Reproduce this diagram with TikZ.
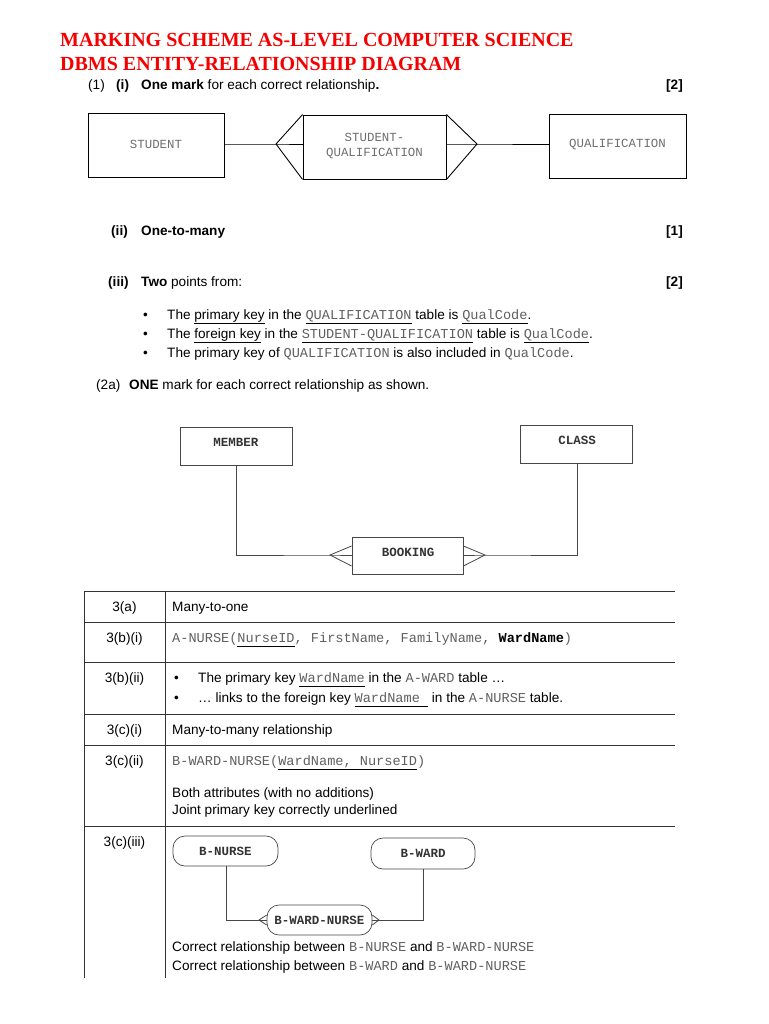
\documentclass[tikz,border=0pt]{standalone}
\usepackage{fontspec}
\setmainfont{Liberation Sans}
\newfontfamily\monof{Liberation Mono}
\newfontfamily\seriff{Liberation Serif}
\definecolor{titlered}{RGB}{245,0,0}
\definecolor{monogray}{RGB}{95,95,95}
\definecolor{boxgray}{RGB}{110,110,110}
\definecolor{linegray}{RGB}{70,70,70}
\newcommand\mt[1]{{\monof\color{monogray}#1}}
\newcommand\mtb[1]{{\monof\bfseries #1}}
\newcommand\uln[1]{\underline{#1\rule[-2.6pt]{0pt}{1pt}}}
\tikzset{
  title/.style={anchor=base west, inner sep=0pt, text=titlered, font=\seriff\bfseries\fontsize{20}{24}\selectfont},
  body/.style={anchor=base west, inner sep=0pt, text=black, font=\fontsize{13.6}{16}\selectfont},
  markr/.style={anchor=base east, inner sep=0pt, text=black, font=\bfseries\fontsize{13.6}{16}\selectfont},
  lab/.style={anchor=base, inner sep=0pt, text=black, font=\fontsize{13.6}{16}\selectfont},
  erbox/.style={draw=black, line width=0.9pt, inner sep=0pt},
  ertext/.style={inner sep=0pt, text=boxgray, font=\monof\fontsize{12.4}{14.5}\selectfont, align=center},
  erline/.style={draw=black, line width=0.9pt},
  gbox/.style={draw=linegray, line width=0.8pt, inner sep=0pt},
  gtext/.style={inner sep=0pt, text=black!80, font=\monof\bfseries\fontsize{12.5}{14}\selectfont},
  gline/.style={draw=linegray, line width=0.8pt},
  rbox/.style={draw=linegray, line width=0.7pt, rounded corners=12pt, inner sep=0pt},
  tline/.style={draw=black!80, line width=0.8pt},
}
\begin{document}
\begin{tikzpicture}[x=1pt,y=-1pt]
\useasboundingbox (0,0) rectangle (768,1024);
% title
\node[title] (t1) at (60,47) {MARKING SCHEME AS-LEVEL COMPUTER SCIENCE};
\node[title] (t2) at (60,71) {DBMS ENTITY-RELATIONSHIP DIAGRAM};
% question 1 (i)
\node[body] (q1n) at (88,90) {(1)};
\node[body] (q1i) at (116,90) {\bfseries (i)};
\node[body] (q1t) at (141,90) {\textbf{One mark} for each correct relationship\textbf{.}};
\node[markr] (q1m) at (683,90) {[2]};
% ER diagram 1
\node[erbox, minimum width=136pt, minimum height=64pt] (stu) at (156,145) {};
\node[ertext] (stut) at (156,144) {STUDENT};
\node[erbox, minimum width=143pt, minimum height=64pt] (sq) at (374.5,147) {};
\node[ertext] (sqt) at (374.5,146) {STUDENT-\\QUALIFICATION};
\node[erbox, minimum width=137pt, minimum height=64pt] (qual) at (617.5,146) {};
\node[ertext] (qualt) at (617.5,145) {QUALIFICATION};
\coordinate (a1) at (276,144);
\coordinate (a2) at (477,144);
\draw[erline] (stu.east |- a1) -- (a1) -- (sq.west |- a1);
\draw[erline] (sq.north west) -- (a1) -- (sq.south west);
\draw[erline] (sq.east |- a2) -- (a2) -- (qual.west |- a2);
\draw[erline] (sq.north east) -- (a2) -- (sq.south east);
% (ii)
\node[body] (q2n) at (111,236) {\bfseries (ii)};
\node[body] (q2t) at (141,236) {\bfseries One-to-many};
\node[markr] (q2m) at (683,236) {[1]};
% (iii)
\node[body] (q3n) at (108,286) {\bfseries (iii)};
\node[body] (q3t) at (141,286) {\textbf{Two} points from:};
\node[markr] (q3m) at (683,286) {[2]};
\node[body] (b1) at (143,319) {•};
\node[body] (b1t) at (167,319) {The \uln{primary key} in the \uln{\mt{QUALIFICATION}} table is \uln{\mt{QualCode}}.};
\node[body] (b2) at (143,338) {•};
\node[body] (b2t) at (167,338) {The \uln{foreign key} in the \uln{\mt{STUDENT-QUALIFICATION}} table is \uln{\mt{QualCode}}.};
\node[body] (b3) at (143,357) {•};
\node[body] (b3t) at (167,357) {The primary key of \mt{QUALIFICATION} is also included in \mt{QualCode}.};
% (2a)
\node[body] (q4n) at (96,389) {(2a)};
\node[body] (q4t) at (129,389) {\textbf{ONE} mark for each correct relationship as shown.};
% ER diagram 2
\node[gbox, minimum width=112pt, minimum height=38pt] (mem) at (236,446) {};
\node[gtext] (memt) at (236,442) {MEMBER};
\node[gbox, minimum width=112pt, minimum height=38pt] (cls) at (576,444) {};
\node[gtext] (clst) at (577,440) {CLASS};
\node[gbox, minimum width=111pt, minimum height=37pt] (book) at (407.5,555.5) {};
\node[gtext] (bookt) at (408,552) {BOOKING};
\coordinate (m1) at (236,555);
\coordinate (a3) at (330,555);
\coordinate (a4) at (485,555);
\coordinate (c1) at (577,555);
\draw[gline] (mem.south -| m1) -- (m1) -- (a3) -- (book.west |- a3);
\draw[gline] (book.west |- 0,546) -- (a3) -- (book.west |- 0,566);
\draw[gline] (book.east |- a4) -- (a4) -- (c1) -- (cls.south -| c1);
\draw[gline] (book.east |- 0,546) -- (a4) -- (book.east |- 0,566);
% table
\coordinate (tl) at (84,591);
\coordinate (tm) at (165,591);
\coordinate (tr) at (675,591);
\coordinate (bl) at (84,978);
\coordinate (bm) at (165,978);
\draw[tline] (tl) -- (bl);
\draw[tline] (tm) -- (bm);
\foreach \yy in {591,622,662,714,745,826} { \draw[tline] (tl |- 0,\yy) -- (tr |- 0,\yy); }
\node[lab] (l1) at (124.5,611) {3(a)};
\node[body] (r1) at (172,611) {Many-to-one};
\node[lab] (l2) at (124.5,642) {3(b)(i)};
\node[body] (r2) at (172,642) {\mt{A-NURSE(}\uln{\mt{NurseID}}\mt{, FirstName, FamilyName, }\mtb{WardName}\mt{)}};
\node[lab] (l3) at (124.5,682) {3(b)(ii)};
\node[body] (r3b1) at (174,682) {•};
\node[body] (r3t1) at (198,682) {The primary key \uln{\mt{WardName}} in the \mt{A-WARD} table …};
\node[body] (r3b2) at (174,702) {•};
\node[body] (r3t2) at (198,702) {… links to the foreign key \uln{\mt{WardName\ }} in the \mt{A-NURSE} table.};
\node[lab] (l4) at (124.5,734) {3(c)(i)};
\node[body] (r4) at (172,734) {Many-to-many relationship};
\node[lab] (l5) at (124.5,765) {3(c)(ii)};
\node[body] (r5a) at (172,765) {\mt{B-WARD-NURSE(}\uln{\mt{WardName, NurseID}}\mt{)}};
\node[body] (r5b) at (172,797) {Both attributes (with no additions)};
\node[body] (r5c) at (172,814) {Joint primary key correctly underlined};
\node[lab] (l6) at (124.5,846) {3(c)(iii)};
% ER diagram 3
\node[rbox, minimum width=105pt, minimum height=30pt] (bn) at (225.5,851) {};
\node[gtext] (bnt) at (225.5,851) {B-NURSE};
\node[rbox, minimum width=104pt, minimum height=31pt] (bw) at (423,853.5) {};
\node[gtext] (bwt) at (423,853) {B-WARD};
\node[rbox, minimum width=105pt, minimum height=30pt] (bwn) at (319.5,920) {};
\node[gtext] (bwnt) at (319.5,920) {B-WARD-NURSE};
\coordinate (n1) at (226,920);
\coordinate (a5) at (259,920);
\coordinate (a6) at (379,920);
\coordinate (w1) at (423,920);
\draw[gline] (bn.south -| n1) -- (n1) -- (a5) -- (bwn.west |- a5);
\draw[gline] ([yshift=5pt]bwn.west) -- (a5) -- ([yshift=-5pt]bwn.west);
\draw[gline] (bwn.east |- a6) -- (a6) -- (w1) -- (bw.south -| w1);
\draw[gline] ([yshift=5pt]bwn.east) -- (a6) -- ([yshift=-5pt]bwn.east);
\node[body] (r6a) at (172,951) {Correct relationship between \mt{B-NURSE} and \mt{B-WARD-NURSE}};
\node[body] (r6b) at (172,970) {Correct relationship between \mt{B-WARD} and \mt{B-WARD-NURSE}};
\end{tikzpicture}
\end{document}
